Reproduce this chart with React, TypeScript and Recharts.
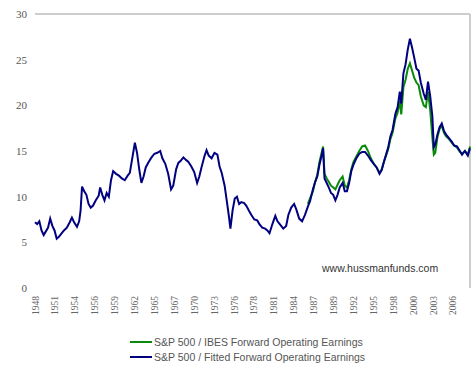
import { LineChart, Line, XAxis, YAxis, Legend, ReferenceLine } from 'recharts';

// P/E on fitted forward operating earnings, [year, value]
const FITTED: [number, number][] = [
  [1948.0, 7.2], [1948.3, 7.0], [1948.6, 7.3], [1948.9, 6.3], [1949.2, 5.8], [1949.5, 6.2], [1949.8, 6.6],
  [1950.1, 7.6], [1950.4, 6.8], [1950.7, 6.3], [1951.0, 5.4], [1951.3, 5.6], [1951.7, 6.0], [1952.0, 6.3],
  [1952.4, 6.6], [1952.8, 7.2], [1953.1, 7.7], [1953.4, 7.2], [1953.8, 6.7], [1954.1, 7.3], [1954.3, 8.5],
  [1954.5, 11.1], [1954.8, 10.6], [1955.1, 10.2], [1955.4, 9.2], [1955.7, 8.8], [1956.0, 9.0], [1956.4, 9.6],
  [1956.8, 10.1], [1957.0, 11.0], [1957.3, 10.2], [1957.6, 9.6], [1957.9, 10.4], [1958.2, 10.0], [1958.5, 11.8],
  [1958.8, 12.8], [1959.2, 12.5], [1959.6, 12.3], [1960.0, 12.0], [1960.4, 11.8], [1960.8, 12.3], [1961.1, 12.6],
  [1961.5, 14.5], [1961.8, 15.9], [1962.1, 14.8], [1962.4, 13.0], [1962.7, 11.5], [1963.0, 12.2], [1963.3, 13.2],
  [1963.7, 13.8], [1964.1, 14.3], [1964.5, 14.7], [1964.9, 14.8], [1965.3, 15.0], [1965.6, 14.2], [1966.0, 13.6],
  [1966.4, 12.5], [1966.8, 10.8], [1967.1, 11.2], [1967.5, 13.0], [1967.8, 13.7], [1968.1, 13.9], [1968.5, 14.3],
  [1968.9, 14.0], [1969.2, 13.8], [1969.6, 13.3], [1970.0, 12.7], [1970.4, 11.5], [1970.7, 12.2], [1971.0, 13.2],
  [1971.4, 14.4], [1971.7, 15.1], [1972.0, 14.5], [1972.4, 14.2], [1972.8, 14.8], [1973.2, 14.6], [1973.5, 13.3],
  [1973.8, 12.6], [1974.2, 11.2], [1974.5, 9.5], [1974.8, 7.8], [1975.0, 6.5], [1975.3, 8.5], [1975.6, 9.8],
  [1975.9, 10.0], [1976.2, 9.2], [1976.5, 9.4], [1976.9, 9.3], [1977.2, 9.0], [1977.6, 8.4], [1977.9, 8.0],
  [1978.3, 7.5], [1978.7, 7.4], [1979.0, 7.0], [1979.4, 6.6], [1979.8, 6.5], [1980.1, 6.3], [1980.4, 6.0],
  [1980.8, 7.0], [1981.2, 7.9], [1981.5, 7.3], [1981.9, 6.9], [1982.3, 6.5], [1982.7, 6.8], [1983.0, 8.0],
  [1983.4, 8.8], [1983.8, 9.2], [1984.1, 8.6], [1984.5, 7.6], [1984.9, 7.3], [1985.3, 8.0], [1985.7, 8.9],
  [1986.0, 9.5], [1986.4, 10.8], [1986.7, 11.6], [1987.0, 12.2], [1987.3, 13.5], [1987.6, 14.5], [1987.8, 15.3],
  [1988.0, 12.0], [1988.3, 11.5], [1988.6, 11.0], [1988.9, 10.4], [1989.2, 10.2], [1989.5, 9.6], [1989.8, 10.2],
  [1990.1, 11.0], [1990.5, 11.5], [1990.8, 10.6], [1991.1, 10.6], [1991.4, 11.5], [1991.7, 12.8], [1992.0, 13.5],
  [1992.4, 14.2], [1992.8, 14.7], [1993.2, 14.9], [1993.6, 14.9], [1994.0, 14.5], [1994.4, 14.0], [1994.8, 13.6],
  [1995.2, 13.2], [1995.6, 12.5], [1995.9, 12.9], [1996.2, 13.8], [1996.5, 14.6], [1996.8, 15.4], [1997.1, 16.6],
  [1997.4, 17.3], [1997.8, 19.1], [1998.1, 19.8], [1998.4, 21.5], [1998.6, 20.2], [1998.9, 23.5], [1999.2, 24.5],
  [1999.5, 26.1], [1999.8, 27.3], [2000.1, 26.3], [2000.4, 25.2], [2000.7, 24.0], [2001.0, 23.8], [2001.3, 22.5],
  [2001.7, 21.3], [2002.0, 20.6], [2002.3, 22.6], [2002.6, 21.0], [2002.9, 18.8], [2003.1, 15.4], [2003.3, 15.7],
  [2003.6, 16.8], [2003.9, 17.6], [2004.2, 18.0], [2004.5, 17.2], [2004.8, 16.8], [2005.2, 16.4], [2005.6, 16.0],
  [2005.9, 15.6], [2006.3, 15.5], [2006.7, 15.0], [2007.0, 14.6], [2007.4, 15.0], [2007.8, 14.5], [2008.1, 15.3],
];

// P/E on IBES forward operating earnings, [year, value]
const IBES: [number, number][] = [
  [1985.7, 9.2], [1986.0, 9.8], [1986.4, 10.6], [1986.7, 11.6], [1987.0, 12.4], [1987.3, 13.8], [1987.6, 14.8],
  [1987.8, 15.5], [1988.0, 12.5], [1988.3, 12.0], [1988.6, 11.6], [1988.9, 11.2], [1989.2, 11.0], [1989.5, 10.8],
  [1989.8, 11.3], [1990.1, 11.8], [1990.5, 12.2], [1990.8, 11.2], [1991.1, 11.0], [1991.4, 11.8], [1991.7, 13.0],
  [1992.0, 13.8], [1992.4, 14.4], [1992.8, 15.0], [1993.2, 15.5], [1993.6, 15.6], [1994.0, 15.0], [1994.4, 14.2],
  [1994.8, 13.6], [1995.2, 13.2], [1995.6, 12.6], [1995.9, 13.0], [1996.2, 13.8], [1996.5, 14.5], [1996.8, 15.2],
  [1997.1, 16.3], [1997.4, 17.0], [1997.8, 18.6], [1998.1, 19.2], [1998.4, 20.5], [1998.6, 19.0], [1998.9, 22.0],
  [1999.2, 22.8], [1999.5, 24.0], [1999.8, 24.6], [2000.1, 23.8], [2000.4, 23.0], [2000.7, 22.5], [2001.0, 22.2],
  [2001.3, 21.0], [2001.7, 20.0], [2002.0, 19.8], [2002.3, 21.5], [2002.6, 19.5], [2002.9, 16.5], [2003.1, 14.6],
  [2003.3, 14.8], [2003.6, 16.5], [2003.9, 17.4], [2004.2, 17.8], [2004.5, 17.0], [2004.8, 16.6], [2005.2, 16.3],
  [2005.6, 15.9], [2005.9, 15.6], [2006.3, 15.4], [2006.7, 14.9], [2007.0, 14.7], [2007.4, 15.0], [2007.8, 14.6],
  [2008.1, 15.5],
];

const TICK_POS = [
  1948, 1950.75, 1953.5, 1956.25, 1959, 1961.75, 1964.5, 1967.25, 1970, 1972.75, 1975.5,
  1978.25, 1981, 1983.75, 1986.5, 1989.25, 1992, 1994.75, 1997.5, 2000.25, 2003, 2005.75,
];
const TICK_LABELS = [
  '1948', '1951', '1954', '1956', '1959', '1962', '1965', '1967', '1970', '1973', '1976',
  '1978', '1981', '1984', '1987', '1989', '1992', '1995', '1998', '2000', '2003', '2006',
];
const Y_TICKS = [0, 5, 10, 15, 20, 25, 30];

const SERIES = [
  { key: 'ibes', name: 'S&P 500 / IBES Forward Operating Earnings', color: '#0a8a0a' },
  { key: 'fitted', name: 'S&P 500 / Fitted Forward Operating Earnings', color: '#000080' },
];

const ibesByYear = new Map(IBES);
const rows = FITTED.map(([year, v]) => ({ year, fitted: v, ibes: ibesByYear.get(year) ?? null }));

const XTick = ({ x, y, index }: { x: number; y: number; index: number }) => (
  <text
    x={x}
    y={y}
    dy={3.5}
    transform={`rotate(-90 ${x} ${y})`}
    textAnchor="end"
    fontSize={9.5}
    fontFamily="'Liberation Serif', serif"
    fill="#666"
  >
    {TICK_LABELS[index]}
  </text>
);

const renderLegend = () => (
  <div style={{ fontFamily: "'Liberation Sans', Arial, sans-serif", fontSize: 10.5, color: '#555' }}>
    {SERIES.map((s) => (
      <div key={s.key} style={{ display: 'flex', alignItems: 'center', height: 15 }}>
        <span style={{ display: 'inline-block', width: 22, height: 2, background: s.color, marginRight: 2 }} />
        {s.name}
      </div>
    ))}
  </div>
);

export default function App() {
  return (
    <div style={{ position: 'absolute', left: 0, top: 0, width: 474, height: 369, background: '#fff' }}>
      {/* legend height (30px) is added to the bottom offset by recharts */}
      <LineChart width={474} height={369} data={rows} margin={{ top: 14, right: 4, left: 0, bottom: 11 }}>
        <XAxis
          dataKey="year"
          type="number"
          domain={[1948, 2008.1]}
          ticks={TICK_POS}
          interval={0}
          axisLine={false}
          tickLine={false}
          height={40}
          tick={(p: any) => <XTick x={p.x} y={p.y} index={p.index} />}
        />
        <YAxis
          domain={[0, 30]}
          ticks={Y_TICKS}
          width={35}
          axisLine={false}
          tickLine={false}
          tick={{ fontSize: 11, fill: '#555', fontFamily: "'Liberation Serif', serif" }}
        />
        <ReferenceLine y={30} stroke="#bdbdbd" strokeWidth={1.5} />
        <ReferenceLine x={2008.1} stroke="#bdbdbd" strokeWidth={1.5} />
        {SERIES.map((s) => (
          <Line
            key={s.key}
            dataKey={s.key}
            name={s.name}
            stroke={s.color}
            strokeWidth={2}
            dot={false}
            type="linear"
            isAnimationActive={false}
          />
        ))}
        <Legend layout="vertical" content={renderLegend} wrapperStyle={{ left: 130, top: 334, width: 300 }} />
      </LineChart>
      <div
        style={{
          position: 'absolute', left: 322, top: 262, fontSize: 10.5, color: '#333',
          fontFamily: "'Liberation Sans', Arial, sans-serif",
        }}
      >
        www.hussmanfunds.com
      </div>
    </div>
  );
}
